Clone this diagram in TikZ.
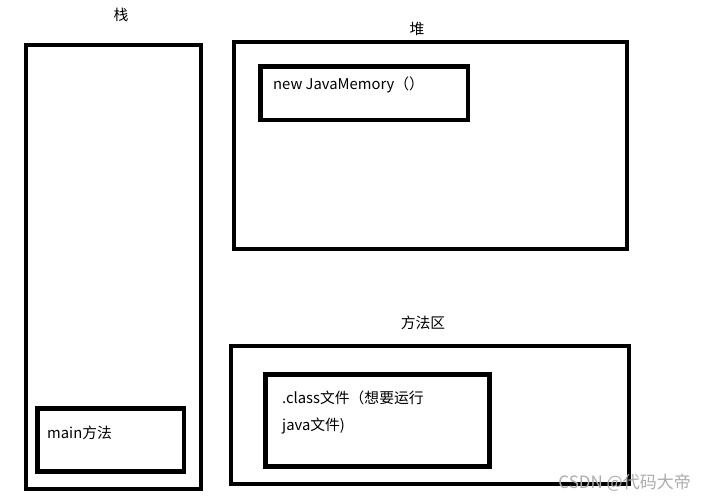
\documentclass[tikz,border=0pt]{standalone}
\usepackage{fontspec}
\setmainfont{Noto Sans CJK SC}
\begin{document}
\begin{tikzpicture}[x=1bp,y=-1bp,
  box/.style={draw=black,line width=4.5bp},
  lbl/.style={font=\fontsize{14.8bp}{17bp}\selectfont,inner sep=0pt,anchor=west},
  ttl/.style={font=\fontsize{14.8bp}{17bp}\selectfont,inner sep=0pt},
  wm/.style={font=\fontsize{17bp}{19bp}\selectfont,inner sep=0pt,anchor=east,text=gray!65}]
\useasboundingbox (0,0) rectangle (706,502);
% stack
\node[ttl] (tstack) at (121,15) {栈};
\draw[box] (26,45) rectangle (201,489);
\draw[box] (37.5,408.5) rectangle (184,471.5);
\node[lbl] (mainm) at (47,433) {main方法};
% heap
\node[ttl] (theap) at (417,29) {堆};
\draw[box] (234,42) rectangle (627,249);
\draw[box] (260.5,66.5) rectangle (468,120);
\node[lbl] (newjm) at (273,85) {new JavaMemory（）};
% method area
\node[ttl] (tmeth) at (423,323) {方法区};
\draw[box] (231,346) rectangle (629,484);
\draw[box] (265.5,374.5) rectangle (489.5,466.5);
\node[lbl] (cls1) at (282,398) {.class文件（想要运行};
\node[lbl] (cls2) at (282,426) {java文件)};
% watermark
\node[wm] (wmk) at (691,483) {CSDN @代码大帝};
\end{tikzpicture}
\end{document}
